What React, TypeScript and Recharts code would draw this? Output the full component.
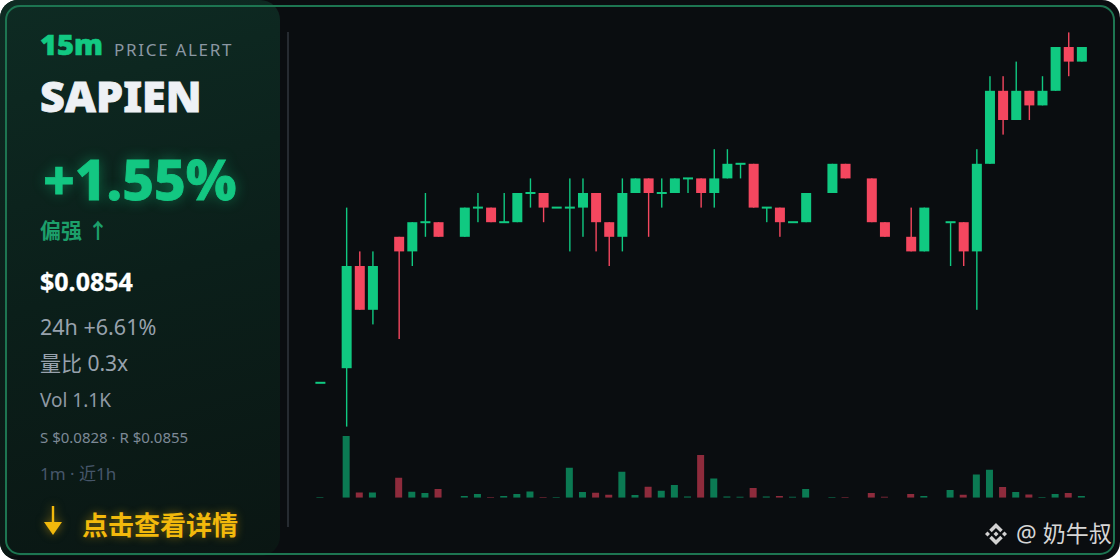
import { ComposedChart, Bar, XAxis, YAxis, Cell } from "recharts";

// 1m candles, last hour (slots without a print are null)
const minutes = [
  0, 1, 2, 3, 4, 5, 6, 7, 8, 9, 10, 11, 12, 13, 14, 15, 16, 17, 18, 19,
  20, 21, 22, 23, 24, 25, 26, 27, 28, 29, 30, 31, 32, 33, 34, 35, 36, 37, 38, 39,
  40, 41, 42, 43, 44, 45, 46, 47, 48, 49, 50, 51, 52, 53, 54, 55, 56, 57, 58,
];

const opens = [
  0.0831, null, 0.0832, 0.0839, 0.0836, null, 0.0841, 0.084, 0.0842, 0.0842,
  null, 0.0841, 0.0843, 0.0843, 0.0842, 0.0842, 0.0844, 0.0844, 0.0843, 0.0843,
  0.0843, 0.0844, 0.0842, 0.0841, 0.0844, 0.0845, 0.0844, 0.0844, 0.0845, 0.0845,
  0.0844, 0.0845, 0.0846, 0.0846, 0.0843, 0.0843, 0.0842, 0.0842, null, 0.0844,
  0.0846, null, 0.0845, 0.0842, null, 0.0841, 0.084, null, 0.0842, 0.0842,
  0.084, 0.0846, 0.0851, 0.0849, 0.0851, 0.085, 0.0851, 0.0854, 0.0853,
];

const highs = [
  0.0831, null, 0.0843, 0.084, 0.084, null, 0.0841, 0.0842, 0.0844, 0.0842,
  null, 0.0843, 0.0844, 0.0843, 0.0844, 0.0844, 0.0845, 0.0844, 0.0843, 0.0845,
  0.0845, 0.0844, 0.0842, 0.0845, 0.0845, 0.0845, 0.0845, 0.0845, 0.0845, 0.0845,
  0.0847, 0.0847, 0.0846, 0.0846, 0.0843, 0.0843, 0.0842, 0.0844, null, 0.0846,
  0.0846, null, 0.0845, 0.0842, null, 0.0843, 0.0843, null, 0.0842, 0.0842,
  0.0847, 0.0852, 0.0852, 0.0853, 0.0851, 0.0852, 0.0854, 0.0855, 0.0854,
];

const lows = [
  0.0831, null, 0.0828, 0.0836, 0.0835, null, 0.0834, 0.0839, 0.0841, 0.0841,
  null, 0.0841, 0.0842, 0.0842, 0.0842, 0.0842, 0.0843, 0.0842, 0.0843, 0.084,
  0.0841, 0.084, 0.0839, 0.084, 0.0844, 0.0841, 0.0843, 0.0844, 0.0844, 0.0843,
  0.0843, 0.0845, 0.0845, 0.0843, 0.0842, 0.0841, 0.0842, 0.0842, null, 0.0844,
  0.0845, null, 0.0842, 0.0841, null, 0.084, 0.084, null, 0.0839, 0.0839,
  0.0836, 0.0846, 0.0848, 0.0849, 0.0849, 0.085, 0.0851, 0.0852, 0.0853,
];

const closes = [
  0.0831, null, 0.0839, 0.0836, 0.0839, null, 0.084, 0.0842, 0.0842, 0.0841,
  null, 0.0843, 0.0843, 0.0842, 0.0842, 0.0844, 0.0844, 0.0843, 0.0843, 0.0843,
  0.0844, 0.0842, 0.0841, 0.0844, 0.0845, 0.0844, 0.0844, 0.0845, 0.0845, 0.0844,
  0.0845, 0.0846, 0.0846, 0.0843, 0.0843, 0.0842, 0.0842, 0.0844, null, 0.0846,
  0.0845, null, 0.0842, 0.0841, null, 0.084, 0.0843, null, 0.0842, 0.084,
  0.0846, 0.0851, 0.0849, 0.0851, 0.085, 0.0851, 0.0854, 0.0853, 0.0854,
];

const volumes = [
  7, null, 617, 53, 53, null, 200, 60, 47, 87,
  null, 17, 37, 7, 17, 37, 63, 7, 7, 300,
  57, 50, 30, 260, 27, 110, 70, 127, 13, 427,
  193, 13, 10, 97, 13, 17, 10, 87, null, 7,
  7, null, 47, 10, null, 37, 17, null, 77, 30,
  233, 280, 107, 57, 33, 7, 37, 47, 17,
];

const PRICE_MIN = 0.082313;
const PRICE_MAX = 0.085585;
const VOL_MAX = 4780;

const GREEN = "#10c981";
const RED = "#f4475f";
const VOL_GREEN = "#0b7a53";
const VOL_RED = "#8e2b3c";
const YELLOW = "#f2b90c";

const SANS = "'Noto Sans', 'Noto Sans CJK SC', sans-serif";

const data = minutes.map((t, i) => ({
  t,
  open: opens[i],
  high: highs[i],
  low: lows[i],
  close: closes[i],
  vol: volumes[i],
}));

function Candle(props: any) {
  const { x, y, width, height, payload } = props;
  if (payload == null || payload.high == null) return null;
  const { open, high, low, close } = payload;
  const k = height / (high - PRICE_MIN);
  const py = (p: number) => y + (high - p) * k;
  const color = close >= open ? GREEN : RED;
  const cx = x + width / 2;
  let top = py(Math.max(open, close));
  let bot = py(Math.min(open, close));
  if (bot - top < 2) {
    top -= 1;
    bot = top + 2;
  }
  return (
    <g>
      <rect x={cx - 0.7} y={py(high)} width={1.4} height={Math.max(py(low) - py(high), 0.01)} fill={color} />
      <rect x={x} y={top} width={width} height={bot - top} fill={color} />
    </g>
  );
}

function BinanceLogo() {
  return (
    <svg width="22" height="22" viewBox="0 0 126.61 126.61" style={{ position: "absolute", left: 985, top: 523 }}>
      <g fill="#d2d2d2">
        <path d="M38.73 53.2 63.3 28.64 87.88 53.22 102.18 38.92 63.3 0 24.43 38.9z" />
        <path d="M0 63.31 14.3 49.01 28.6 63.31 14.3 77.61z" />
        <path d="M38.73 73.41 63.3 97.97 87.88 73.39 102.18 87.69 63.3 126.57 24.43 87.71z" />
        <path d="M97.99 63.31 112.29 49.01 126.59 63.31 112.29 77.61z" />
        <path d="M77.83 63.3 63.3 48.77 48.78 63.3 63.3 77.83z" />
      </g>
    </svg>
  );
}

function DownArrow() {
  return (
    <svg
      width="24"
      height="34"
      viewBox="0 0 24 34"
      style={{ position: "absolute", left: 41, top: 504, filter: "drop-shadow(0 0 5px rgba(242,185,12,0.5))" }}
    >
      <rect x="10.8" y="2" width="2.4" height="18" fill={YELLOW} />
      <path d="M3 18 H21 L12 31 Z" fill={YELLOW} />
    </svg>
  );
}

const txt = (left: number, top: number, size: number, extra: any = {}) => ({
  position: "absolute" as const,
  left,
  top,
  fontSize: size,
  lineHeight: `${size}px`,
  whiteSpace: "nowrap" as const,
  fontFamily: SANS,
  ...extra,
});

export default function App() {
  return (
    <div
      style={{
        position: "relative",
        width: 1120,
        height: 560,
        background: "#0a0d10",
        borderRadius: 18,
        overflow: "hidden",
      }}
    >
      <style>{`body{margin:0;background:#fff}`}</style>

      {/* left info panel */}
      <div
        style={{
          position: "absolute",
          left: 0,
          top: 0,
          width: 280,
          height: 556,
          borderRadius: "0 20px 20px 0",
          background: "linear-gradient(165deg, #0e2b23 0%, #0b1f1a 50%, #0a1613 100%)",
        }}
      />
      <div style={txt(40, 29, 29, { color: "#12c982", fontWeight: 900, WebkitTextStroke: "0.6px #12c982" })}>15m</div>
      <div style={txt(114, 41, 17, { color: "#8b97a3", letterSpacing: 1.7 })}>PRICE ALERT</div>
      <div style={txt(40, 74, 43, { color: "#eef1f5", fontWeight: 900, WebkitTextStroke: "0.8px #eef1f5" })}>
        SAPIEN
      </div>
      <div
        style={txt(43, 151, 55, {
          color: "#13c782",
          fontWeight: 800,
          WebkitTextStroke: "0.8px #13c782",
          textShadow: "0 0 14px rgba(16,201,125,0.45)",
        })}
      >
        +1.55%
      </div>
      <div style={txt(40, 220, 21, { color: "#1c9f6a", fontWeight: 700 })}>偏强 ↑</div>
      <div style={txt(40, 269, 25, { color: "#ffffff", fontWeight: 700, WebkitTextStroke: "0.3px #fff" })}>
        $0.0854
      </div>
      <div style={txt(40, 316, 21.5, { color: "#98a2ad" })}>24h +6.61%</div>
      <div style={txt(40, 353, 21, { color: "#98a2ad" })}>量比 0.3x</div>
      <div style={txt(40, 391, 19, { color: "#8f99a4" })}>Vol 1.1K</div>
      <div style={txt(40, 430, 15, { color: "#7d8996" })}>S $0.0828 · R $0.0855</div>
      <div style={txt(40, 465, 17, { color: "#46566a" })}>1m · 近1h</div>
      <DownArrow />
      <div
        style={txt(82, 512, 26, {
          color: YELLOW,
          fontWeight: 700,
          textShadow: "0 0 10px rgba(242,185,12,0.45)",
        })}
      >
        点击查看详情
      </div>

      {/* separator */}
      <div style={{ position: "absolute", left: 287, top: 32, width: 2, height: 495, background: "#262b31" }} />

      {/* candles + volume */}
      <div style={{ position: "absolute", left: 290, top: 0 }}>
        <ComposedChart
          width={830}
          height={560}
          data={data}
          margin={{ top: 20, right: 32, bottom: 62.3, left: 23.4 }}
        >
          <XAxis xAxisId="c" dataKey="t" hide />
          <XAxis xAxisId="v" dataKey="t" hide />
          <YAxis yAxisId="p" hide domain={[PRICE_MIN, PRICE_MAX]} allowDataOverflow />
          <YAxis yAxisId="v" hide domain={[0, VOL_MAX]} allowDataOverflow />
          <Bar
            xAxisId="v"
            yAxisId="v"
            dataKey="vol"
            barSize={7}
            isAnimationActive={false}
          >
            {data.map((d, i) => (
              <Cell key={`v-${i}`} fill={(d.close ?? 0) >= (d.open ?? 0) ? VOL_GREEN : VOL_RED} />
            ))}
          </Bar>
          <Bar
            xAxisId="c"
            yAxisId="p"
            dataKey={(d: any) => (d.high == null ? null : [PRICE_MIN, d.high])}
            barSize={10}
            shape={Candle}
            isAnimationActive={false}
          />
        </ComposedChart>
      </div>

      <BinanceLogo />
      <div style={txt(1016, 522, 23, { color: "#d6d6d6" })}>@ 奶牛叔</div>

      {/* frame border */}
      <div
        style={{
          position: "absolute",
          left: 5,
          top: 5,
          right: 5.5,
          bottom: 5.5,
          border: "2px solid #1d7551",
          borderRadius: 15,
          pointerEvents: "none",
        }}
      />
    </div>
  );
}
